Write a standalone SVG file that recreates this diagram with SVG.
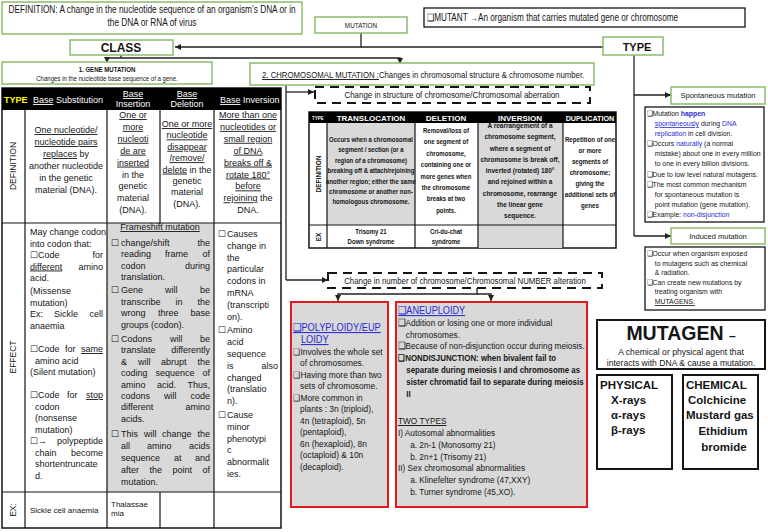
<svg xmlns="http://www.w3.org/2000/svg" width="768" height="532" viewBox="0 0 768 532">
<style>
text{font-family:'Liberation Sans',Arial,sans-serif;fill:#151515;font-size:9px}
.g{fill:#fff;stroke:#8cbb6c;stroke-width:1.5}
.k{fill:#fff;stroke:#151515;stroke-width:1.3}
.kk{fill:#fff;stroke:#151515;stroke-width:2}
.ln{fill:none;stroke:#222;stroke-width:1.3}
.tl{fill:none;stroke:#151515;stroke-width:1.2}
.dash{fill:#fff;stroke:#151515;stroke-width:2;stroke-dasharray:9 6}
.red{fill:#d9d9d9;stroke:#e3191c;stroke-width:2}
.grey{fill:#d9d9d9}
.u{text-decoration:underline}
.c{text-anchor:middle}
.e{text-anchor:end}
.b{font-weight:bold}
.w{fill:#fff}
.bl{fill:#2a2ad0}
.ct{font-size:7px;font-weight:bold}
.sp{font-size:8px}
</style>
<defs>
<marker id="ah" markerWidth="6" markerHeight="6" refX="6" refY="3" orient="auto" markerUnits="userSpaceOnUse"><path d="M0,0 L6,3 L0,6 z" fill="#222"/></marker>
</defs>

<g id="connectors">
<path class="ln" d="M361,33 V47 H175" marker-end="url(#ah)"/>
<path class="ln" d="M361,47 H617" marker-end="url(#ah)"/>
<path class="ln" d="M121,55 V58"/>
<path class="ln" d="M254,58 H107 V63" marker-end="url(#ah)"/>
<path class="ln" d="M254,58 H400 V64" marker-end="url(#ah)"/>
<path class="ln" d="M286,85 V280"/>
<path class="ln" d="M286,92 H314" marker-end="url(#ah)"/>
<path class="ln" d="M286,280 H328" marker-end="url(#ah)"/>
<path class="ln" d="M477,288 V294 H338 V301" marker-end="url(#ah)"/>
<path class="ln" d="M477,294 H491 V301" marker-end="url(#ah)"/>
<path class="ln" d="M634,55 V236"/>
<path class="ln" d="M634,95 H671" marker-end="url(#ah)"/>
<path class="ln" d="M634,236 H671" marker-end="url(#ah)"/>
</g>

<g id="definition">
<rect class="g" x="2" y="2" width="300" height="32"/>
<g transform="matrix(0.83 0 0 1 25.84 0)">
<text class="c" x="152" y="13" style="font-size:10px">DEFINITION: A change in the nucleotide  sequence of an organism’s DNA or in</text>
<text class="c" x="152" y="26" style="font-size:10px">the DNA or RNA of virus</text>
</g>
</g>

<g id="mutation">
<rect class="g" x="315" y="17" width="92" height="16"/>
<text class="c" x="361" y="28" style="font-size:7.5px" transform="matrix(0.85 0 0 1 54.15 0)">MUTATION</text>
</g>

<g id="mutant">
<rect class="k" x="424" y="8" width="321" height="19"/>
<text x="427" y="21" style="font-size:10px" transform="matrix(0.82 0 0 1 76.86 0)">❑MUTANT →An organism that carries mutated gene or chromosome</text>
</g>

<g id="class">
<rect class="g" x="70" y="40" width="103" height="15"/>
<text class="c b" x="121" y="52" style="font-size:12px">CLASS</text>
</g>

<g id="type">
<rect class="g" x="603" y="37" width="60" height="18"/>
<text class="c b" x="637" y="51" style="font-size:11px">TYPE</text>
</g>

<g id="gene-mutation">
<rect class="g" x="2" y="62" width="210" height="22"/>
<g transform="matrix(0.81 0 0 1 20.33 0)">
<text class="c b" x="107" y="72" style="font-size:7.5px">1. GENE MUTATION</text>
<text class="c" x="107" y="81" style="font-size:7.5px">Changes in the nucleotide base sequence of a gene.</text>
</g>
</g>

<g id="chromosomal-mutation">
<rect class="g" x="250" y="63" width="344" height="22"/>
<text x="262" y="78" style="font-size:9.5px" transform="matrix(0.82 0 0 1 47.16 0)"><tspan class="u">2. CHROMOSOMAL MUTATION :</tspan>Changes in chromosomal structure &amp; chromosome number.</text>
</g>

<g id="gene-table">
<rect x="2" y="88" width="279" height="440" fill="#fff" stroke="#151515" stroke-width="1.5"/>
<rect x="2" y="88" width="279" height="22" fill="#000"/>
<rect class="grey" x="107" y="223" width="107" height="269"/>
<path class="tl" d="M25,110 V528 M107,110 V528 M160,110 V223 M160,492 V528 M214,110 V528 M2,223 H281 M2,492 H281"/>
<text class="b" x="4" y="103" style="fill:#ffff00;font-size:9px">TYPE</text>
<text class="w" x="33" y="103"><tspan class="u">Base</tspan> Substitution</text>
<text class="w c" x="133" y="97"><tspan class="u">Base</tspan><tspan x="133" dy="10">Insertion</tspan></text>
<text class="w c" x="187" y="97"><tspan class="u">Base</tspan><tspan x="187" dy="10">Deletion</tspan></text>
<text class="w" x="220" y="103"><tspan class="u">Base</tspan> Inversion</text>

<text transform="translate(16,166) rotate(-90)" class="c" style="font-size:8.5px">DEFINITION</text>
<text transform="translate(16,357) rotate(-90)" class="c" style="font-size:8.5px">EFFECT</text>
<text transform="translate(16,510) rotate(-90)" class="c" style="font-size:8.5px">EX:</text>

<text class="c" x="66" y="133"><tspan class="u">One nucleotide/</tspan><tspan x="66" dy="12" class="u">nucleotide pairs</tspan><tspan x="66" dy="12"><tspan class="u">replaces</tspan> by</tspan><tspan x="66" dy="12">another nucleotide</tspan><tspan x="66" dy="12">in the genetic</tspan><tspan x="66" dy="12">material (DNA).</tspan></text>
<text class="c" x="133" y="118"><tspan class="u">One or</tspan><tspan x="133" dy="11.9" class="u">more</tspan><tspan x="133" dy="11.9" class="u">nucleoti</tspan><tspan x="133" dy="11.9" class="u">de are</tspan><tspan x="133" dy="11.9" class="u">inserted</tspan><tspan x="133" dy="11.9">in the</tspan><tspan x="133" dy="11.9">genetic</tspan><tspan x="133" dy="11.9">material</tspan><tspan x="133" dy="11.9">(DNA).</tspan></text>
<text class="c" x="187" y="127"><tspan class="u">One or more</tspan><tspan x="187" dy="11.4" class="u">nucleotide</tspan><tspan x="187" dy="11.4" class="u">disappear</tspan><tspan x="187" dy="11.4" class="u">/remove/</tspan><tspan x="187" dy="11.4"><tspan class="u">delete</tspan> in the</tspan><tspan x="187" dy="11.4">genetic</tspan><tspan x="187" dy="11.4">material</tspan><tspan x="187" dy="11.4">(DNA).</tspan></text>
<text class="c" x="248" y="118"><tspan class="u">More than one</tspan><tspan x="248" dy="11.9" class="u">nucleotides or</tspan><tspan x="248" dy="11.9" class="u">small region</tspan><tspan x="248" dy="11.9" class="u">of DNA</tspan><tspan x="248" dy="11.9" class="u">breaks off  &amp;</tspan><tspan x="248" dy="11.9" class="u">rotate 180°</tspan><tspan x="248" dy="11.9" class="u">before</tspan><tspan x="248" dy="11.9"><tspan class="u">rejoining</tspan> the</tspan><tspan x="248" dy="11.9">DNA.</tspan></text>

<text x="30" y="235">May change codon</text>
<text x="30" y="246.5">into codon that:</text>
<text y="258"><tspan x="30">☐Code</tspan></text><text class="e" x="103" y="258">for</text>
<text x="30" y="269.5" class="u">different</text><text class="e" x="103" y="269.5">amino</text>
<text x="30" y="281">acid.</text>
<text x="30" y="294">(Missense</text>
<text x="30" y="305.5">mutation)</text>
<text x="30" y="317">Ex:</text><text x="54" y="317">Sickle</text><text class="e" x="103" y="317">cell</text>
<text x="30" y="328.5">anaemia</text>
<text x="30" y="352">☐Code</text><text x="65" y="352">for</text><text class="e u" x="103" y="352">same</text>
<text x="35" y="363.5">amino acid</text>
<text x="30" y="375">(Silent mutation)</text>
<text x="30" y="398">☐Code</text><text x="67" y="398">for</text><text class="e u" x="103" y="398">stop</text>
<text x="35" y="409.5">codon</text>
<text x="35" y="421">(nonsense</text>
<text x="35" y="432.5">mutation)</text>
<text x="30" y="444">☐→</text><text class="e" x="103" y="444">polypeptide</text>
<text x="35" y="455.5">chain</text><text class="e" x="103" y="455.5">become</text>
<text x="35" y="467">shortentruncate</text>
<text x="35" y="478.5">d.</text>

<text class="c u" x="160" y="230">Frameshift mutation</text>
<text x="111" y="245.8">☐</text>
<text x="121" y="245.8">change/shift</text><text class="e" x="210" y="245.8">the</text>
<text x="121" y="257.3">reading</text><text x="165" y="257.3">frame</text><text class="e" x="210" y="257.3">of</text>
<text x="121" y="268.6">codon</text><text class="e" x="210" y="268.6">during</text>
<text x="121" y="279.9">translation.</text>
<text x="111" y="293.4">☐</text>
<text x="121" y="293.4">Gene</text><text x="165" y="293.4">will</text><text class="e" x="210" y="293.4">be</text>
<text x="121" y="304.8">transcribe</text><text x="175.5" y="304.8">in</text><text class="e" x="210" y="304.8">the</text>
<text x="121" y="316.2">wrong</text><text x="158" y="316.2">three</text><text class="e" x="210" y="316.2">base</text>
<text x="121" y="327.6">groups (codon).</text>
<text x="111" y="342">☐</text>
<text x="121" y="342">Codons</text><text x="170" y="342">will</text><text class="e" x="210" y="342">be</text>
<text x="121" y="353.4">translate</text><text class="e" x="210" y="353.4">differently</text>
<text x="121" y="364.8">&amp;</text><text x="138" y="364.8">will</text><text x="161" y="364.8">abrupt</text><text class="e" x="210" y="364.8">the</text>
<text x="121" y="376.2">coding</text><text x="155.5" y="376.2">sequence</text><text class="e" x="210" y="376.2">of</text>
<text x="121" y="387.6">amino</text><text x="157" y="387.6">acid.</text><text class="e" x="210" y="387.6">Thus,</text>
<text x="121" y="399">codons</text><text x="164" y="399">will</text><text class="e" x="210" y="399">code</text>
<text x="121" y="410.4">different</text><text class="e" x="210" y="410.4">amino</text>
<text x="121" y="421.8">acids.</text>
<text x="111" y="437">☐</text>
<text x="121" y="437">This</text><text x="144" y="437">will</text><text x="162" y="437">change</text><text class="e" x="210" y="437">the</text>
<text x="121" y="449">all</text><text x="147" y="449">amino</text><text class="e" x="210" y="449">acids</text>
<text x="121" y="461">sequence</text><text x="174" y="461">at</text><text class="e" x="210" y="461">and</text>
<text x="121" y="473">after</text><text x="149.5" y="473">the</text><text x="172.5" y="473">point</text><text class="e" x="210" y="473">of</text>
<text x="121" y="485">mutation.</text>

<text x="218" y="237">☐</text>
<text x="227" y="237">Causes<tspan x="227" dy="11.8">change in</tspan><tspan x="227" dy="11.8">the</tspan><tspan x="227" dy="11.8">particular</tspan><tspan x="227" dy="11.8">codons in</tspan><tspan x="227" dy="11.8">mRNA</tspan><tspan x="227" dy="11.8">(transcripti</tspan><tspan x="227" dy="11.8">on).</tspan></text>
<text x="218" y="333.4">☐</text>
<text x="227" y="333.4">Amino<tspan x="227" dy="11.8">acid</tspan><tspan x="227" dy="11.8">sequence</tspan><tspan x="227" dy="11.8">is</tspan><tspan x="227" dy="11.8">changed</tspan><tspan x="227" dy="11.8">(translatio</tspan><tspan x="227" dy="11.8">n).</tspan></text>
<text class="e" x="278" y="368.8">also</text>
<text x="218" y="418">☐</text>
<text x="227" y="418">Cause<tspan x="227" dy="11.8">minor</tspan><tspan x="227" dy="11.8">phenotypi</tspan><tspan x="227" dy="11.8">c</tspan><tspan x="227" dy="11.8">abnormalit</tspan><tspan x="227" dy="11.8">ies.</tspan></text>

<text x="30" y="513" style="font-size:8px">Sickle cell anaemia</text>
<text x="111" y="507" style="font-size:8px">Thalassae<tspan x="111" dy="9">mia</tspan></text>
</g>

<g id="structure-label">
<rect class="dash" x="315" y="87" width="275" height="16"/>
<text class="c" x="452" y="98" style="font-size:9px" transform="matrix(0.88 0 0 1 54.24 0)">Change in structure of chromosome/Chromosomal aberration</text>
</g>

<g id="structure-table">
<rect x="309" y="112" width="307" height="136" fill="#fff" stroke="#151515" stroke-width="1.5"/>
<rect x="309" y="112" width="307" height="11" fill="#000"/>
<rect class="grey" x="327" y="123" width="88" height="102"/>
<rect class="grey" x="478" y="123" width="85" height="125"/>
<path class="tl" d="M327,123 V248 M415,123 V248 M478,123 V248 M563,123 V248 M309,225 H616"/>
<text class="w c b" x="318" y="120" style="font-size:4.5px">TYPE</text>
<text class="w c b" x="371" y="121" style="font-size:8px">TRANSLOCATION</text>
<text class="w c b" x="446" y="121" style="font-size:8px">DELETION</text>
<text class="w c b" x="520" y="121" style="font-size:8px">INVERSION</text>
<text class="w c b" x="590" y="121" style="font-size:8px" transform="matrix(0.9 0 0 1 59 0)">DUPLICATION</text>
<text transform="translate(321,174) rotate(-90)" class="c b" style="font-size:6.5px">DEFINITION</text>
<text transform="translate(321,237) rotate(-90)" class="c b" style="font-size:6.5px">EX</text>
<g transform="matrix(0.86 0 0 1 51.94 0)">
<text class="c ct" x="371" y="142">Occurs when a chromosomal<tspan x="371" dy="10.4">segment / section      (or a</tspan><tspan x="371" dy="10.4">region of a chromosome)</tspan><tspan x="371" dy="10.4">breaking off &amp; attach/rejoining</tspan><tspan x="371" dy="10.4">another region; either the same</tspan><tspan x="371" dy="10.4">chromosome or another non-</tspan><tspan x="371" dy="10.4">homologous chromosome.</tspan></text>
<text class="c ct" x="371" y="234">Trisomy 21<tspan x="371" dy="10">Down syndrome</tspan></text>
</g>
<g transform="matrix(0.86 0 0 1 62.44 0)">
<text class="c ct" x="446" y="133">Removal/loss of<tspan x="446" dy="11.4">one segment of</tspan><tspan x="446" dy="11.4">chromosome,</tspan><tspan x="446" dy="11.4">containing one or</tspan><tspan x="446" dy="11.4">more genes when</tspan><tspan x="446" dy="11.4">the chromosome</tspan><tspan x="446" dy="11.4">breaks at two</tspan><tspan x="446" dy="11.4">points.</tspan></text>
<text class="c ct" x="446" y="234">Cri-du-chat<tspan x="446" dy="10">syndrome</tspan></text>
</g>
<text class="c ct" x="520" y="128" transform="matrix(0.93 0 0 1 36.4 0)">A rearrangement of a<tspan x="520" dy="11.3">chromosome segment,</tspan><tspan x="520" dy="11.3">where a segment of</tspan><tspan x="520" dy="11.3">chromosome is break off,</tspan><tspan x="520" dy="11.3">inverted (rotated) 180°</tspan><tspan x="520" dy="11.3">and rejoined within a</tspan><tspan x="520" dy="11.3">chromosome, rearrange</tspan><tspan x="520" dy="11.3">the linear gene</tspan><tspan x="520" dy="11.3">sequence.</tspan></text>
<text class="c ct" x="590" y="142" transform="matrix(0.88 0 0 1 70.8 0)">Repetition of one<tspan x="590" dy="11">or more</tspan><tspan x="590" dy="11">segments of</tspan><tspan x="590" dy="11">chromosome;</tspan><tspan x="590" dy="11">giving the</tspan><tspan x="590" dy="11">additional sets of</tspan><tspan x="590" dy="11">genes</tspan></text>
</g>

<g id="number-label">
<rect class="dash" x="328" y="273" width="274" height="15"/>
<text class="c" x="465" y="284" style="font-size:9px" transform="matrix(0.87 0 0 1 60.45 0)">Change in number of chromosome/Chromosomal NUMBER alteration</text>
</g>

<g id="polyploidy">
<rect class="red" x="291" y="302" width="97" height="205"/>
<g transform="matrix(0.88 0 0 1 35.16 0)">
<text class="bl" x="293" y="331" style="font-size:10.5px"><tspan class="u">❑POLYPLOIDY/EUP</tspan><tspan x="302" dy="12" class="u">LOIDY</tspan></text>
<text x="293" y="355" style="font-size:9.5px">❑Involves the whole set<tspan x="301" dy="11.5">of chromosomes.</tspan><tspan x="293" dy="11.5">❑Having more than two</tspan><tspan x="301" dy="11.5">sets of chromosome.</tspan><tspan x="293" dy="11.5">❑More common in</tspan><tspan x="301" dy="11.5">plants :   3n (triploid),</tspan><tspan x="301" dy="11.5">4n (tetraploid), 5n</tspan><tspan x="301" dy="11.5">(pentaploid),</tspan><tspan x="301" dy="11.5">6n (hexaploid), 8n</tspan><tspan x="301" dy="11.5">(octaploid) &amp;  10n</tspan><tspan x="301" dy="11.5">(decaploid).</tspan></text>
</g>
</g>

<g id="aneuploidy">
<rect class="red" x="396" y="302" width="191" height="205"/>
<g transform="matrix(0.87 0 0 1 51.74 0)">
<text class="bl u" x="398" y="314" style="font-size:10.5px">❑ANEUPLOIDY</text>
<text x="398" y="326" style="font-size:9.5px">❑Addition or losing one or more individual<tspan x="407" dy="11.7">chromosomes.</tspan><tspan x="398" dy="11.7">❑Because of non-disjunction occur during meiosis.</tspan></text>
<text class="u" x="398" y="424" style="font-size:9.5px">TWO TYPES</text>
<text x="398" y="436" style="font-size:9.5px">I) Autosomal abnormalities<tspan x="412" dy="11.8">a.  2n-1  (Monosomy 21)</tspan><tspan x="412" dy="11.8">b.  2n+1 (Trisomy 21)</tspan><tspan x="398" dy="11.8">II) Sex chromosomal abnormalities</tspan><tspan x="412" dy="11.8">a.  Klinefelter syndrome (47,XXY)</tspan><tspan x="412" dy="11.8">b.  Turner syndrome (45,XO).</tspan></text>
</g>
<text class="b" x="398" y="361" style="font-size:9.5px" transform="matrix(0.83 0 0 1 67.66 0)">❑NONDISJUNCTION: when bivalent fail to<tspan x="408" dy="12">separate during meiosis I and  chromosome as</tspan><tspan x="408" dy="12">sister chromatid fail to separate during meiosis</tspan><tspan x="408" dy="12">II</tspan></text>
</g>

<g id="spontaneous">
<rect class="g" x="671" y="87" width="94" height="17"/>
<text class="c" x="718" y="98" style="font-size:7.5px">Spontaneous mutation</text>
</g>

<g id="spontaneous-notes">
<rect class="k" x="645" y="107" width="119" height="115"/>
<text class="sp" x="647" y="116" transform="matrix(0.86 0 0 1 90.58 0)">❑Mutation <tspan class="bl b">happen</tspan><tspan x="656" dy="10.1"><tspan class="bl u">spontaneously</tspan> during <tspan class="bl">DNA</tspan></tspan><tspan x="656" dy="10.1"><tspan class="bl">replication</tspan> in cell division.</tspan><tspan x="647" dy="10.1">❑Occurs <tspan class="bl">naturally</tspan> (a normal</tspan><tspan x="656" dy="10.1">mistake) about one in every million</tspan><tspan x="656" dy="10.1">to one in every billion divisions.</tspan><tspan x="647" dy="10.1">❑Due to low level natural mutagens.</tspan><tspan x="647" dy="10.1">❑The most common mechanism</tspan><tspan x="656" dy="10.1">for spontaneous mutation is</tspan><tspan x="656" dy="10.1">point mutation (gene mutation).</tspan><tspan x="647" dy="10.1">❑Example: <tspan class="bl">non-disjunction</tspan></tspan></text>
</g>

<g id="induced">
<rect class="g" x="671" y="228" width="94" height="16"/>
<text class="c" x="718" y="239" style="font-size:7.5px">Induced  mutation</text>
</g>

<g id="induced-notes">
<rect class="k" x="645" y="247" width="120" height="63"/>
<text class="sp" x="647" y="256" transform="matrix(0.86 0 0 1 90.58 0)">❑Occur when organism exposed<tspan x="656" dy="9.6">to mutagens such as chemical</tspan><tspan x="656" dy="9.6">&amp; radiation.</tspan><tspan x="647" dy="9.6">❑Can create new mutations by</tspan><tspan x="656" dy="9.6">treating organism with</tspan><tspan x="656" dy="9.6" class="u">MUTAGENS.</tspan></text>
</g>

<g id="mutagen">
<rect class="kk" x="597" y="320" width="168" height="49"/>
<text class="c b" x="681" y="340" style="font-size:19.5px">MUTAGEN <tspan style="font-size:12px">–</tspan></text>
<text class="c" x="681" y="355" style="font-size:8.6px">A chemical or physical agent that</text>
<text class="c" x="681" y="366" style="font-size:8.6px">interacts with DNA &amp; cause a mutation.</text>
</g>

<g id="physical">
<rect class="kk" x="597" y="375" width="75" height="94"/>
<text class="b" x="600" y="389" style="font-size:11.5px">PHYSICAL<tspan x="611" dy="15">X-rays</tspan><tspan x="611" dy="15">α-rays</tspan><tspan x="611" dy="15">β-rays</tspan></text>
</g>

<g id="chemical">
<rect class="kk" x="683" y="375" width="75" height="94"/>
<text class="b" x="686" y="389" style="font-size:11.5px">CHEMICAL<tspan x="688" dy="15">Colchicine</tspan><tspan x="686" dy="15">Mustard gas</tspan></text>
<text class="b c" x="723" y="435" style="font-size:11.5px">Ethidium<tspan x="724" dy="16">bromide</tspan></text>
</g>
</svg>
